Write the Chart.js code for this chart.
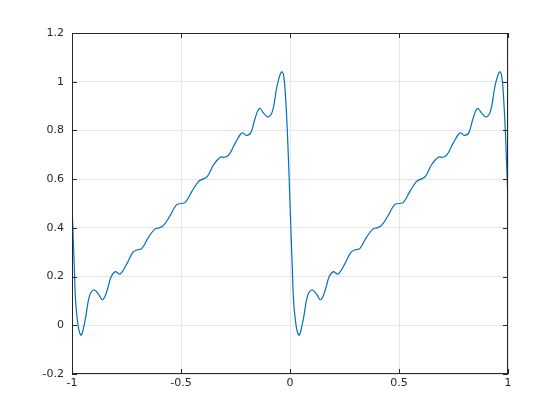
<!DOCTYPE html>
<html>
<head>
<script src="https://cdn.jsdelivr.net/npm/chart.js@4"></script>
<style>body{margin:0;background:#fff}#wrap{width:560px;height:420px}</style>
</head>
<body>
<div id="wrap"><canvas id="myChart" width="560" height="420"></canvas></div>
<script>
// one period of the curve (x in [0,1])
const periodX = [0, 0.01, 0.02, 0.04, 0.06, 0.08, 0.1, 0.12, 0.14, 0.16, 0.18, 0.2, 0.22, 0.25, 0.28, 0.3, 0.32, 0.35, 0.38, 0.4, 0.42, 0.45, 0.48, 0.5, 0.52, 0.55, 0.58, 0.6, 0.62, 0.65, 0.68, 0.7, 0.72, 0.75, 0.78, 0.8, 0.82, 0.84, 0.86, 0.88, 0.9, 0.92, 0.94, 0.96, 0.97, 0.98, 0.99, 1.0];
const periodY = [0.5, 0.25, 0.06, -0.04, 0.02, 0.12, 0.145, 0.13, 0.105, 0.14, 0.2, 0.22, 0.21, 0.25, 0.3, 0.31, 0.315, 0.36, 0.395, 0.4, 0.41, 0.45, 0.495, 0.5, 0.505, 0.55, 0.59, 0.6, 0.61, 0.66, 0.69, 0.69, 0.7, 0.75, 0.79, 0.78, 0.79, 0.85, 0.89, 0.87, 0.855, 0.88, 0.98, 1.04, 1.03, 0.93, 0.75, 0.5];
const xTicks = [-1, -0.5, 0, 0.5, 1];
const yTicks = [-0.2, 0, 0.2, 0.4, 0.6, 0.8, 1, 1.2];

let points = [];
periodX.forEach((x, i) => { if (i < periodX.length - 1) points.push({x: x - 1, y: periodY[i]}) });
periodX.forEach((x, i) => points.push({x: x, y: periodY[i]}));

// axes box with inward tick marks
const boxPlugin = {
  id: 'box',
  afterDraw(chart) {
    const a = chart.chartArea, c = chart.ctx;
    const sx = chart.scales.x, sy = chart.scales.y;
    c.save();
    c.strokeStyle = '#262626';
    c.lineWidth = 1;
    c.strokeRect(a.left + 0.5, a.top + 0.5, a.right - a.left - 1, a.bottom - a.top - 1);
    c.beginPath();
    xTicks.forEach(v => {
      const px = Math.round(sx.getPixelForValue(v)) + 0.5;
      c.moveTo(px, a.bottom); c.lineTo(px, a.bottom - 5);
      c.moveTo(px, a.top); c.lineTo(px, a.top + 5);
    });
    yTicks.forEach(v => {
      const py = Math.round(sy.getPixelForValue(v)) + 0.5;
      c.moveTo(a.left, py); c.lineTo(a.left + 5, py);
      c.moveTo(a.right, py); c.lineTo(a.right - 5, py);
    });
    c.stroke();
    c.restore();
  }
};

const tickFont = {family: 'DejaVu Sans', size: 11};
const ctx = document.getElementById('myChart').getContext('2d');
new Chart(ctx, {
  type: 'line',
  data: {
    datasets: [{
      data: points,
      borderColor: '#0072BD',
      borderWidth: 1.2,
      pointRadius: 0,
      tension: 0.4,
      fill: false
    }]
  },
  options: {
    responsive: false,
    animation: false,
    layout: {padding: {top: 33, right: 52, left: 0, bottom: 0}},
    plugins: {legend: {display: false}, tooltip: {enabled: false}},
    scales: {
      x: {
        type: 'linear', min: -1, max: 1,
        afterBuildTicks: s => { s.ticks = xTicks.map(v => ({value: v})) },
        afterFit: s => { s.height = 46 },
        ticks: {color: '#262626', font: tickFont, maxRotation: 0, callback: v => String(v)},
        grid: {color: '#e6e6e6', drawTicks: false},
        border: {display: false}
      },
      y: {
        min: -0.2, max: 1.2,
        afterBuildTicks: s => { s.ticks = yTicks.map(v => ({value: v})) },
        afterFit: s => { s.width = 72 },
        ticks: {color: '#262626', font: tickFont, padding: 8, callback: v => String(Math.round(v * 10) / 10)},
        grid: {color: '#e6e6e6', drawTicks: false},
        border: {display: false}
      }
    }
  },
  plugins: [boxPlugin]
});
</script>
</body>
</html>
